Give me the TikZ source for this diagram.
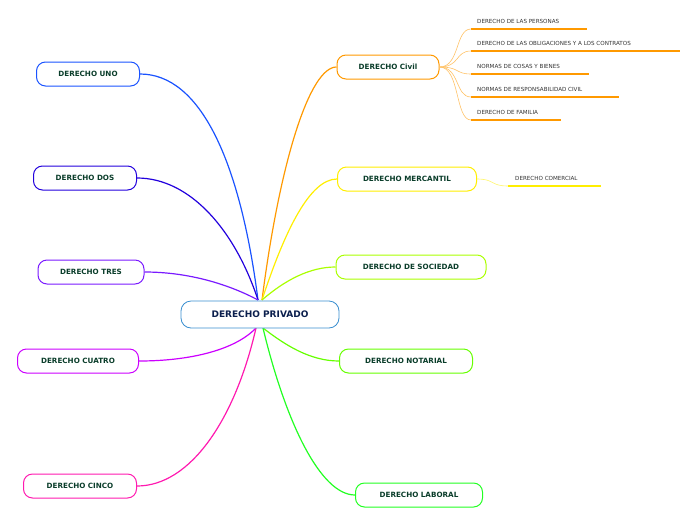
\documentclass[tikz,border=0pt]{standalone}
\usepackage{fontspec}
\setmainfont{DejaVu Sans}
\begin{document}
\begin{tikzpicture}[x=1pt,y=-1pt,
 topic/.style={draw=#1,rounded corners=9pt,line width=1pt,minimum height=24pt,fill=white,text=txt,font=\fontsize{7.2}{8}\selectfont\bfseries},
 sub/.style={inner sep=0pt,anchor=base west,text=black!80,font=\fontsize{5.6}{6}\selectfont},
 conn/.style={draw=#1,line width=1.2pt},
 subl/.style={draw=#1,line width=1.4pt},
 subc/.style={draw=#1!60,line width=0.6pt}]
\definecolor{txt}{HTML}{0A3D2A}
\definecolor{cu}{HTML}{1A53FF}\definecolor{cd}{HTML}{2200DD}\definecolor{ct}{HTML}{7A1AFF}
\definecolor{cc}{HTML}{CC00FF}\definecolor{ci}{HTML}{FF1AB0}\definecolor{cv}{HTML}{FF9900}
\definecolor{cm}{HTML}{FFEE00}\definecolor{cs}{HTML}{AAFF00}\definecolor{cn}{HTML}{66FF00}
\definecolor{cl}{HTML}{22FF22}\definecolor{rt}{HTML}{3A8FD0}
\useasboundingbox (0,0) rectangle (696,520);
\coordinate (rt1) at (258,300); \coordinate (rt2) at (262,300);
\coordinate (rb1) at (256,328); \coordinate (rb2) at (263,328);
\node[topic=cu,minimum width=103pt] (uno) at (88,74) {DERECHO UNO};
\node[topic=cd,minimum width=103pt] (dos) at (85,178) {DERECHO DOS};
\node[topic=ct,minimum width=106pt] (tres) at (91,272) {DERECHO TRES};
\node[topic=cc,minimum width=121pt] (cuatro) at (78,361) {DERECHO CUATRO};
\node[topic=ci,minimum width=113pt] (cinco) at (80,486) {DERECHO CINCO};
\node[topic=cv,minimum width=102pt] (civil) at (388,67) {DERECHO Civil};
\node[topic=cm,minimum width=139pt] (merc) at (407,179) {DERECHO MERCANTIL};
\node[topic=cs,minimum width=150pt] (soc) at (411,267) {DERECHO DE SOCIEDAD};
\node[topic=cn,minimum width=133pt] (not) at (406,361) {DERECHO NOTARIAL};
\node[topic=cl,minimum width=127pt] (lab) at (419,495) {DERECHO LABORAL};
\begin{scope}[on background layer/.style={}]
\draw[conn=cu] (rt1) .. controls (240,160) and (200,74) .. (uno.east);
\draw[conn=cd] (rt1) .. controls (235,230) and (190,178) .. (dos.east);
\draw[conn=ct] (rt1) .. controls (230,285) and (190,272) .. (tres.east);
\draw[conn=cc] (rb1) .. controls (235,350) and (190,361) .. (cuatro.east);
\draw[conn=ci] (rb1) .. controls (235,420) and (190,486) .. (cinco.east);
\draw[conn=cv] (rt2) .. controls (280,160) and (310,67) .. (civil.west);
\draw[conn=cm] (rt2) .. controls (285,230) and (310,179) .. (merc.west);
\draw[conn=cs] (rt2) .. controls (285,280) and (310,267) .. (soc.west);
\draw[conn=cn] (rb2) .. controls (285,345) and (310,361) .. (not.west);
\draw[conn=cl] (rb2) .. controls (285,420) and (320,495) .. (lab.west);
\end{scope}
\node[draw=rt,rounded corners=10pt,line width=0.8pt,minimum width=158pt,minimum height=27pt,fill=white,text={rgb,255:red,11;green,31;blue,77},font=\fontsize{9}{10}\selectfont\bfseries] (root) at (260,314.5) {DERECHO PRIVADO};
% civil subtopics
\foreach \n/\y/\e/\t in {a/29/587/DERECHO DE LAS PERSONAS, b/51/680/DERECHO DE LAS OBLIGACIONES Y A LOS CONTRATOS, c/74/589/NORMAS DE COSAS Y BIENES, d/97/619/NORMAS DE RESPONSABILIDAD CIVIL, e/120/561/DERECHO DE FAMILIA}{
 \coordinate (s\n) at (471,\y); \coordinate (e\n) at (\e,\y);
 \draw[subl=cv] (s\n) -- (e\n);
 \node[sub] (t\n) at (477,\y-6) {\t};
 \draw[subc=cv] (civil.east) .. controls (460,67) and (455,\y) .. (s\n);
}
\coordinate (sm) at (508,186); \coordinate (em) at (601,186);
\draw[subl=cm] (sm) -- (em);
\node[sub] (tm) at (515,180.5) {DERECHO COMERCIAL};
\draw[subc=cm] (merc.east) .. controls (495,179) and (490,186) .. (sm);
\end{tikzpicture}
\end{document}
